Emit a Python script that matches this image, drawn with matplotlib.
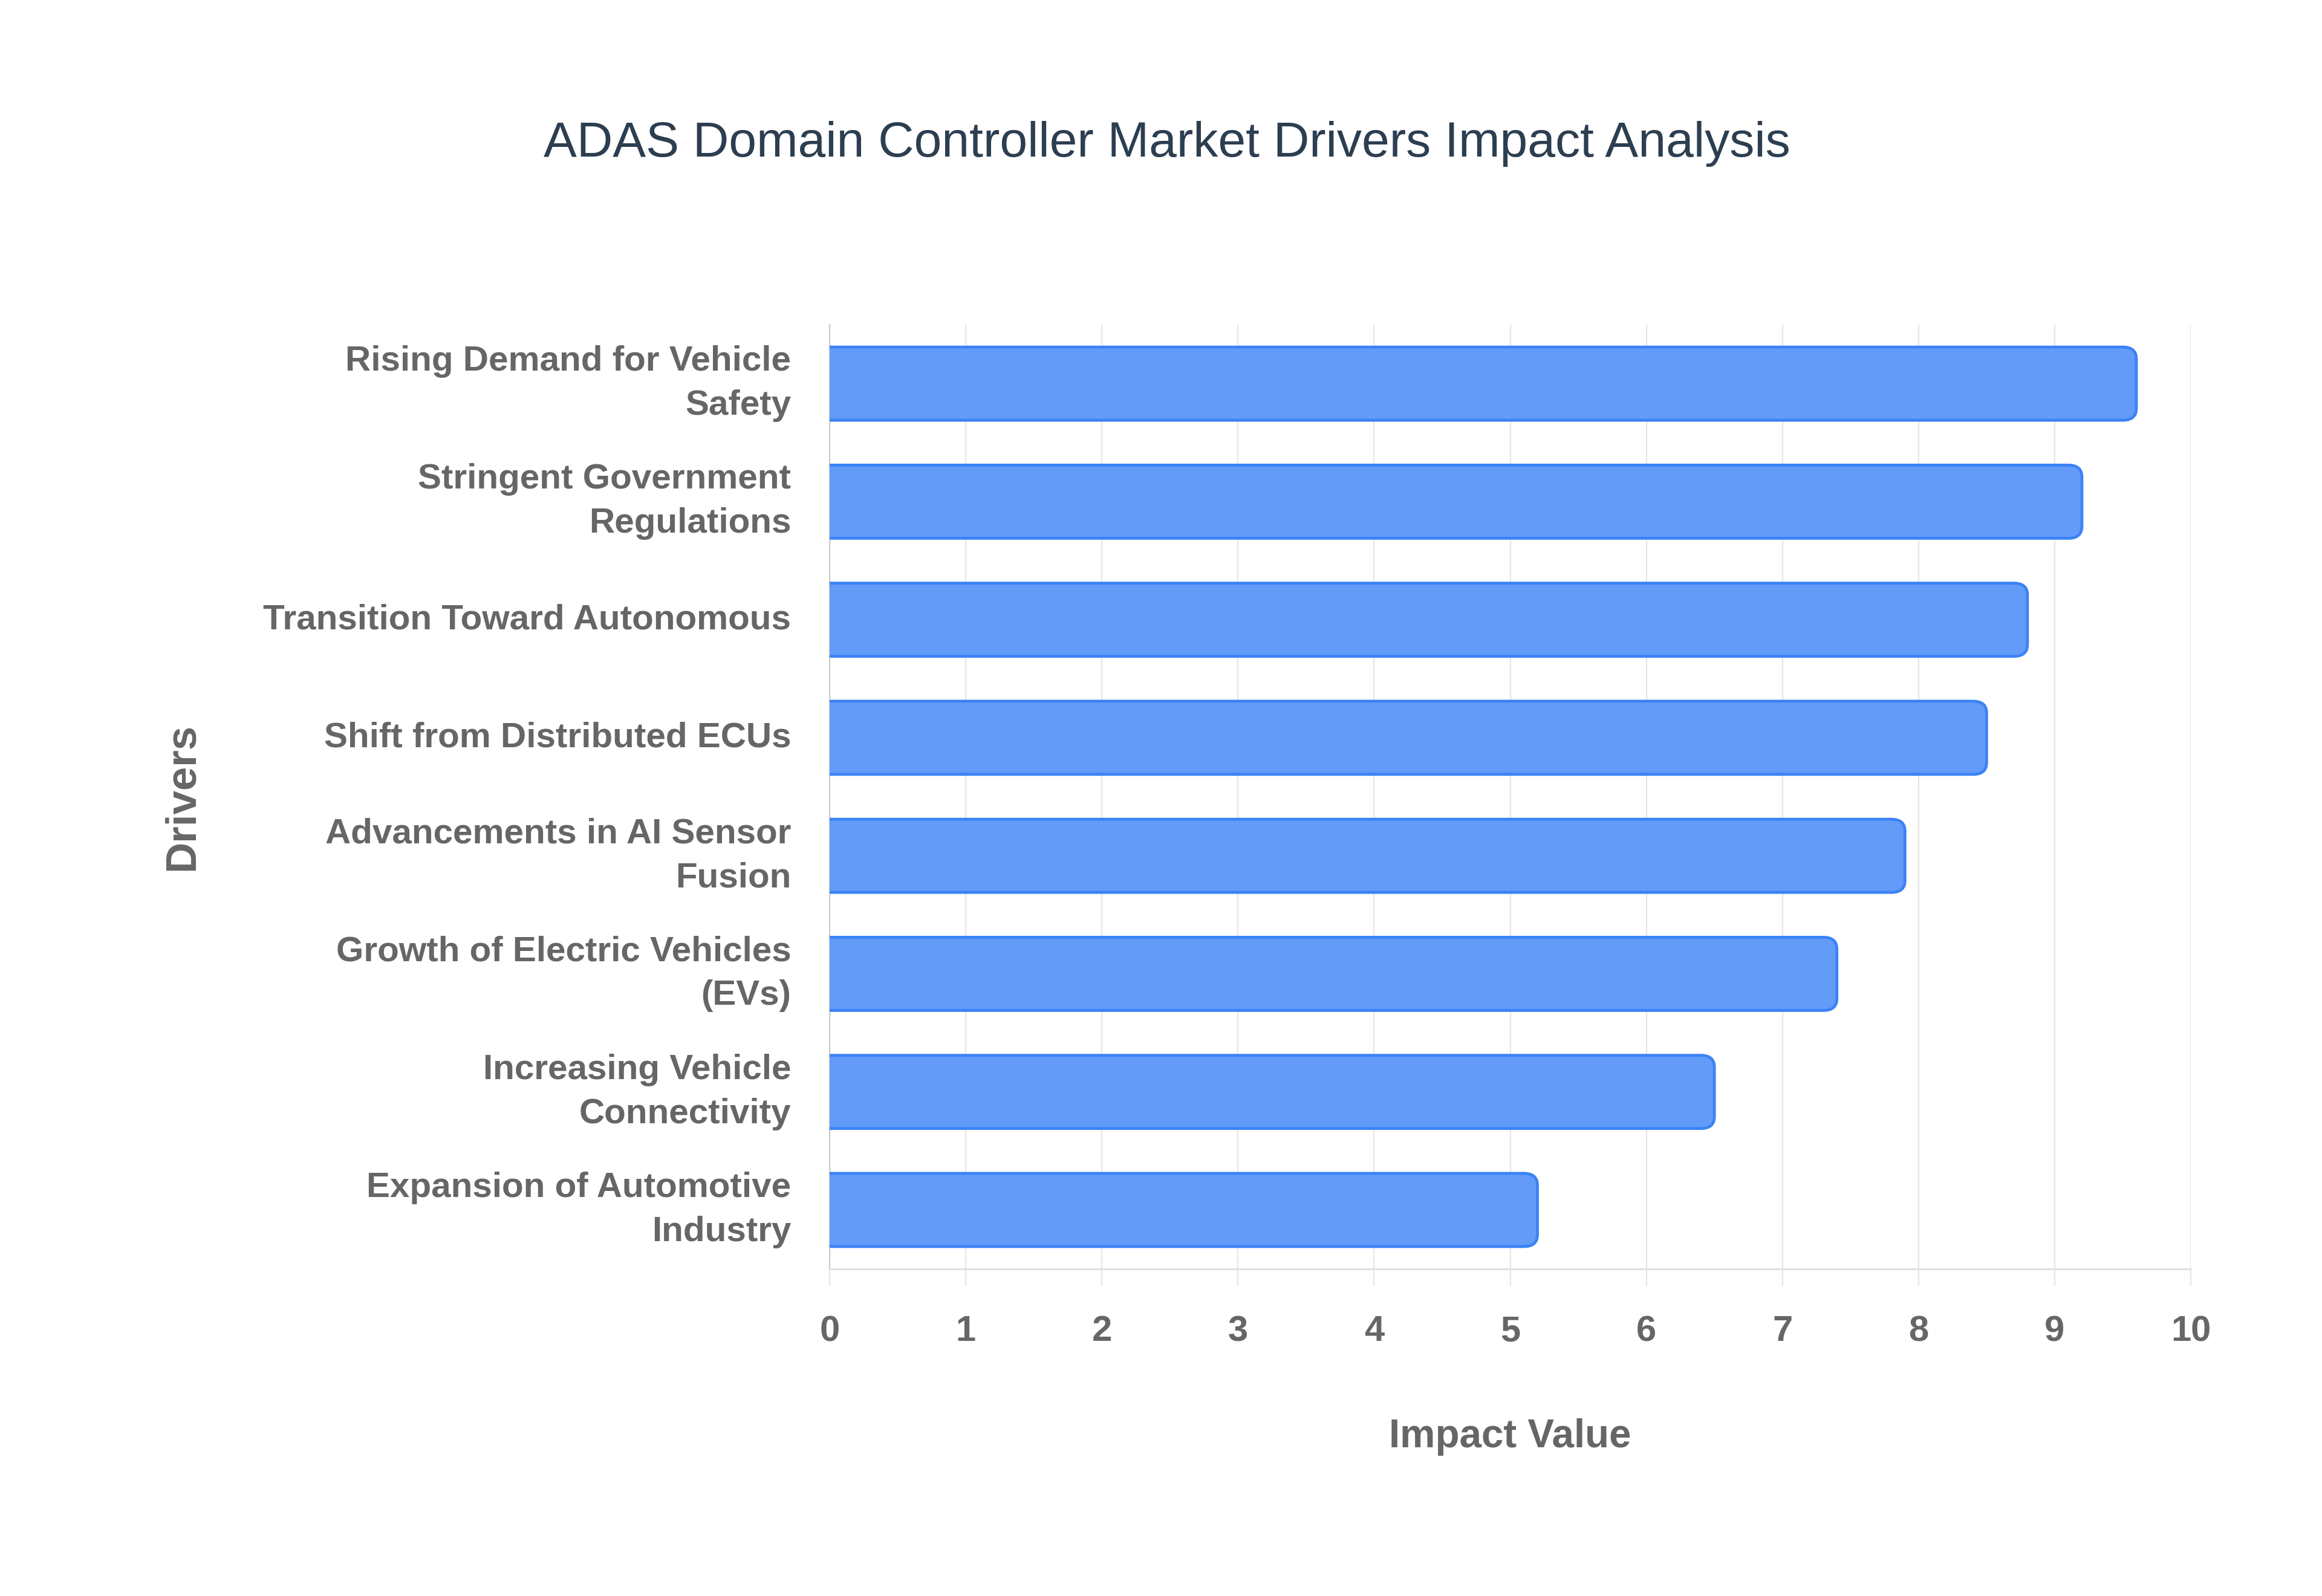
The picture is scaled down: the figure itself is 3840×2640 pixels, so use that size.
import matplotlib.pyplot as plt
import numpy as np
from matplotlib.path import Path
from matplotlib.patches import PathPatch
from matplotlib import rcParams

rcParams["font.family"] = ["Liberation Sans", "DejaVu Sans"]

# data
drivers = [
    "Rising Demand for Vehicle\nSafety",
    "Stringent Government\nRegulations",
    "Transition Toward Autonomous",
    "Shift from Distributed ECUs",
    "Advancements in AI Sensor\nFusion",
    "Growth of Electric Vehicles\n(EVs)",
    "Increasing Vehicle\nConnectivity",
    "Expansion of Automotive\nIndustry",
]
impact = [9.6, 9.2, 8.8, 8.5, 7.9, 7.4, 6.5, 5.2]

fill_col = "#629bf8"
edge_col = "#3b82f6"
label_col = "#666666"
grid_col = "#e6e6e6"

fig = plt.figure(figsize=(19.2, 13.2), dpi=200)
ax = fig.add_axes([0.3573, 0.2049, 0.5862, 0.5917])

bar_h = 0.62
rx, ry = 0.1, 0.1  # corner radius in data units
y_pos = np.arange(len(drivers))

for y, v in zip(y_pos, impact):
    y0, y1 = y - bar_h / 2, y + bar_h / 2
    # rounded right end, flat start
    outline = [
        (0, y0), (v - rx, y0), (v, y0), (v, y0 + ry),
        (v, y1 - ry), (v, y1), (v - rx, y1), (0, y1),
    ]
    codes = [Path.MOVETO, Path.LINETO, Path.CURVE3, Path.CURVE3,
             Path.LINETO, Path.CURVE3, Path.CURVE3, Path.LINETO]
    ax.add_patch(PathPatch(Path(outline + [(0, y0)], codes + [Path.CLOSEPOLY]),
                           facecolor=fill_col, edgecolor="none", zorder=3))
    ax.add_patch(PathPatch(Path(outline, codes), facecolor="none",
                           edgecolor=edge_col, lw=1.7, zorder=4))

ax.set_xlim(0, 10)
ax.set_ylim(len(drivers) - 0.5, -0.5)
ax.set_xticks(range(0, 11))
ax.set_yticks(y_pos)
ax.set_yticklabels(drivers, linespacing=1.45, ha="right", va="center",
                   multialignment="right")

ax.grid(axis="x", color=grid_col, lw=0.8, zorder=0)
ax.set_axisbelow(True)
for s in ["top", "right"]:
    ax.spines[s].set_visible(False)
ax.spines["left"].set_color("#cccccc")
ax.spines["left"].set_linewidth(0.8)
ax.spines["bottom"].set_color("#e0e0e0")
ax.spines["bottom"].set_linewidth(1.1)

ax.tick_params(axis="x", length=10, width=0.8, color=grid_col, pad=17.5,
               labelsize=21.5, labelcolor=label_col)
ax.tick_params(axis="y", length=0, pad=23, labelsize=21, labelcolor=label_col)
for t in ax.get_xticklabels() + ax.get_yticklabels():
    t.set_fontweight("bold")

ax.set_xlabel("Impact Value", fontsize=23.6, fontweight="bold", color=label_col, va="center")
ax.set_ylabel("Drivers", fontsize=25.5, fontweight="bold", color=label_col, va="center")
ax.xaxis.set_label_coords(0.5, -0.178)
ax.yaxis.set_label_coords(-0.4756, 0.5)

fig.text(0.5026, 1 - 238 / 2640, "ADAS Domain Controller Market Drivers Impact Analysis",
         ha="center", va="center", fontsize=29.6, color="#2c3e50")

fig.savefig("out.png", dpi=200, facecolor="white")
